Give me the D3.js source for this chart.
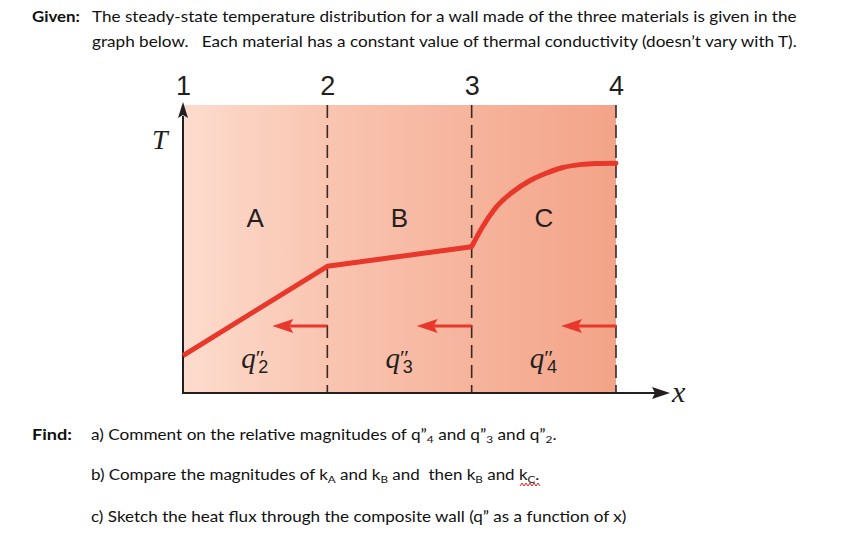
<!DOCTYPE html>
<html>
<head>
<meta charset="utf-8">
<script src="https://cdn.jsdelivr.net/npm/d3@7"></script>
<style>
  body { margin: 0; background: #fff; }
  svg { display: block; }
</style>
</head>
<body>
<svg id="js-svg" width="843" height="539"></svg>
<script>
// stations (interfaces) along the wall and their labels
const stations = [1, 2, 3, 4];
const stationLabels = ["1", "2", "3", "4"];
const materials = ["A", "B", "C"];
const fluxStations = [2, 3, 4];
const fluxSubs = ["2", "3", "4"];

// temperature profile (T in arbitrary units 0..10)
const linearX = [1, 2, 3];
const linearT = [1.3, 4.4, 5.08];
const curveX = [3, 3.076, 3.173, 3.284, 3.402, 3.52, 3.631, 3.748, 3.866, 4];
const curveT = [5.08, 5.77, 6.47, 6.98, 7.37, 7.64, 7.83, 7.93, 7.97, 7.98];

const red = "#e8372b";
const ink = "#231f20";

const svg = d3.select("#js-svg");
const x = d3.scaleLinear().domain([1, 4]).range([183, 616]);
const y = d3.scaleLinear().domain([0, 10]).range([393, 105]);

// background gradient
const defs = svg.append("defs");
const grad = defs.append("linearGradient")
  .attr("id", "wall-grad")
  .attr("gradientUnits", "userSpaceOnUse")
  .attr("x1", x(1)).attr("x2", x(4)).attr("y1", 0).attr("y2", 0);
[[0, "#fddccd"], [0.33, "#f9c5b1"], [0.66, "#f6b49c"], [1, "#f3a488"]]
  .forEach(([o, c]) => grad.append("stop").attr("offset", o).attr("stop-color", c));

svg.append("rect")
  .attr("x", x(1)).attr("y", y(10))
  .attr("width", x(4) - x(1)).attr("height", y(0) - y(10))
  .attr("fill", "url(#wall-grad)");

// dashed interfaces
svg.selectAll(".iface")
  .data(stations.slice(1))
  .join("line")
  .attr("class", "iface")
  .attr("x1", d => x(d)).attr("x2", d => x(d))
  .attr("y1", y(10)).attr("y2", y(0))
  .attr("stroke", "#3b2723")
  .attr("stroke-width", 1.6)
  .attr("stroke-dasharray", "13,7");

// station labels on top, via an axis
svg.append("g")
  .attr("transform", `translate(0,${y(10)})`)
  .call(d3.axisTop(x).tickValues(stations).tickFormat((d, i) => stationLabels[i]).tickSize(0).tickPadding(10))
  .call(g => g.select(".domain").remove())
  .selectAll("text")
  .attr("font-family", "Liberation Sans, Arial, sans-serif")
  .attr("font-size", 27)
  .attr("fill", ink);

// axes
svg.append("line")
  .attr("x1", x(1)).attr("x2", 656)
  .attr("y1", y(0)).attr("y2", y(0))
  .attr("stroke", ink).attr("stroke-width", 2);
svg.append("path")
  .attr("d", `M670,${y(0)} L652,${y(0) - 6} L655,${y(0)} L652,${y(0) + 6} Z`)
  .attr("fill", ink);
svg.append("line")
  .attr("x1", x(1)).attr("x2", x(1))
  .attr("y1", y(0) + 1).attr("y2", 116)
  .attr("stroke", ink).attr("stroke-width", 2);
svg.append("path")
  .attr("d", `M${x(1)},102 L${x(1) - 5},118 L${x(1)},115 L${x(1) + 5},118 Z`)
  .attr("fill", ink);

// temperature profile
svg.append("path")
  .datum(linearX.map((d, i) => [d, linearT[i]]))
  .attr("d", d3.line().x(d => x(d[0])).y(d => y(d[1])))
  .attr("fill", "none").attr("stroke", red)
  .attr("stroke-width", 5).attr("stroke-linejoin", "round");
svg.append("path")
  .datum(curveX.map((d, i) => [d, curveT[i]]))
  .attr("d", d3.line().x(d => x(d[0])).y(d => y(d[1])).curve(d3.curveMonotoneX))
  .attr("fill", "none").attr("stroke", red)
  .attr("stroke-width", 5).attr("stroke-linecap", "round");

// heat flux arrows
const arrowY = 326;
const arrows = svg.selectAll(".flux-arrow")
  .data(fluxStations)
  .join("g")
  .attr("class", "flux-arrow")
  .attr("transform", d => `translate(${x(d)},${arrowY})`);
arrows.append("line")
  .attr("x1", 0).attr("x2", -38).attr("y1", 0).attr("y2", 0)
  .attr("stroke", red).attr("stroke-width", 3);
arrows.append("path")
  .attr("d", "M-55,0 L-34,-7 L-38,0 L-34,7 Z")
  .attr("fill", red);

// material labels
const mids = materials.map((m, i) => (x(stations[i]) + x(stations[i + 1])) / 2);
svg.selectAll(".mat")
  .data(materials)
  .join("text")
  .attr("class", "mat")
  .attr("x", (d, i) => mids[i]).attr("y", 227)
  .attr("text-anchor", "middle")
  .attr("font-family", "Liberation Sans, Arial, sans-serif")
  .attr("font-size", 26)
  .attr("fill", ink)
  .text(d => d);

// q'' labels (one text each, prime and subscript as tspans)
const ql = svg.selectAll(".qlab")
  .data(fluxSubs)
  .join("text")
  .attr("class", "qlab")
  .attr("x", (d, i) => mids[i] - 14).attr("y", 368)
  .attr("font-family", "Liberation Serif, Times New Roman, serif")
  .attr("font-style", "italic").attr("font-size", 29)
  .attr("fill", ink);
ql.append("tspan").text("q");
ql.append("tspan").attr("font-size", 22).attr("dx", -1.5).attr("dy", -3).text("\u2033");
ql.append("tspan")
  .attr("font-family", "Liberation Sans, Arial, sans-serif")
  .attr("font-style", "normal").attr("font-size", 18)
  .attr("dx", -5).attr("dy", 8)
  .text(d => d);

// axis symbols
svg.append("text")
  .attr("x", 152).attr("y", 149)
  .attr("font-family", "Liberation Serif, Times New Roman, serif")
  .attr("font-style", "italic").attr("font-size", 28)
  .attr("fill", ink).text("T");
svg.append("text")
  .attr("x", 672).attr("y", 402)
  .attr("font-family", "Liberation Serif, Times New Roman, serif")
  .attr("font-style", "italic").attr("font-size", 30)
  .attr("fill", ink).text("x");

// problem text
const fitText = (t, x0, x1) => {
  const w = t.node().getBBox().width;
  const s = (x1 - x0) / w;
  t.attr("transform", `translate(${x0 * (1 - s)},0) scale(${s},1)`);
};
const addLine = (parts, x0, x1, yb, bold) => {
  const t = svg.append("text")
    .attr("x", x0).attr("y", yb)
    .attr("font-family", "Lato, Open Sans, sans-serif")
    .attr("font-size", 14.5)
    .attr("font-weight", bold ? 700 : 400)
    .attr("fill", "#111")
    .attr("xml:space", "preserve")
    .style("white-space", "pre");
  let back = 0;
  parts.forEach(p => {
    if (typeof p === "string") {
      t.append("tspan").attr("dy", back).text(p);
      back = 0;
    } else {
      t.append("tspan").attr("font-size", 10).attr("dy", 3).text(p.sub);
      back = -3;
    }
  });
  fitText(t, x0, x1);
  return t;
};

addLine(["Given:"], 32, 80, 22, true);
addLine(["The steady-state temperature distribution for a wall made of the three materials is given in the"], 92, 797, 22);
addLine(["graph below.   Each material has a constant value of thermal conductivity (doesn\u2019t vary with T)."], 92, 797, 47);

addLine(["Find:"], 32, 72, 440, true);
addLine(["a) Comment on the relative magnitudes of q\u201D", { sub: "4" }, " and q\u201D", { sub: "3" }, " and q\u201D", { sub: "2" }, "."], 91, 557, 440);
addLine(["b) Compare the magnitudes of k", { sub: "A" }, " and k", { sub: "B" }, " and  then k", { sub: "B" }, " and k", { sub: "C" }, "."], 91, 540, 480);
addLine(["c) Sketch the heat flux through the composite wall (q\u201D as a function of x)"], 91, 627, 522);

// spell-check squiggle under kC.
const sq = d3.range(0, 11).map(i => [520 + i * 2, i % 2 ? 483 : 486]);
svg.append("path")
  .attr("d", d3.line()(sq))
  .attr("fill", "none").attr("stroke", "#e02020").attr("stroke-width", 1);
</script>
</body>
</html>
